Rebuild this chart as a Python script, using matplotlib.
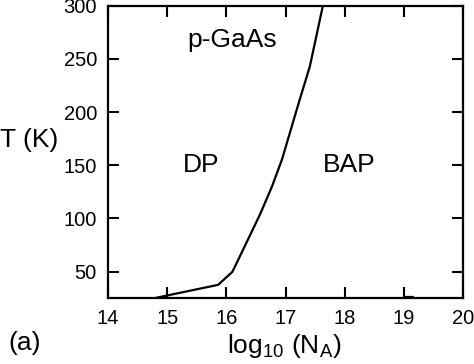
import numpy as np
import matplotlib
matplotlib.use("Agg")
import matplotlib.pyplot as plt

plt.rcParams['font.family'] = ['Liberation Sans', 'DejaVu Sans']
plt.rcParams['mathtext.fontset'] = 'custom'
plt.rcParams['mathtext.rm'] = 'Liberation Sans'
plt.rcParams['mathtext.it'] = 'Liberation Sans'

# boundary between DP and BAP regions
log_na = [14.83, 15.86, 16.10, 16.15, 16.57, 16.77, 16.94, 17.04, 17.24, 17.41, 17.63]
temp_k = [25.5, 37.5, 49.7, 55.3, 104, 130, 155.6, 174.4, 212, 243, 300]

# short piece near the bottom axis at high doping
log_na2 = [19.02, 19.15]
temp_k2 = [25.8, 25.8]

xticks = [14, 15, 16, 17, 18, 19, 20]
yticks = [50, 100, 150, 200, 250, 300]

fig = plt.figure(figsize=(4.74, 3.64), dpi=100)
ax = fig.add_axes([0.228, 0.181, 0.749, 0.803])

ax.plot(log_na, temp_k, color='black', lw=1.6)
ax.plot(log_na2, temp_k2, color='black', lw=1.6)

ax.set_xlim(14, 20)
ax.set_ylim(25, 300)
ax.set_xticks(xticks)
ax.set_yticks(yticks)
ax.tick_params(direction='in', length=8, width=1.5, top=True, right=True,
               labelsize=14.5, pad=8)
for s in ax.spines.values():
    s.set_linewidth(1.6)

ax.text(16.1, 268, 'p-GaAs', fontsize=19, ha='center', va='center')
ax.text(15.58, 150, 'DP', fontsize=19, ha='center', va='center')
ax.text(18.08, 150, 'BAP', fontsize=19, ha='center', va='center')

fig.text(0.062, 0.615, 'T (K)', fontsize=19, ha='center', va='center')
fig.text(0.052, 0.058, '(a)', fontsize=19, ha='center', va='center')
fig.text(0.6, 0.05, r'log$_{10}$ (N$_A$)', fontsize=19, ha='center', va='center')

fig.savefig('out.png', dpi=100)
